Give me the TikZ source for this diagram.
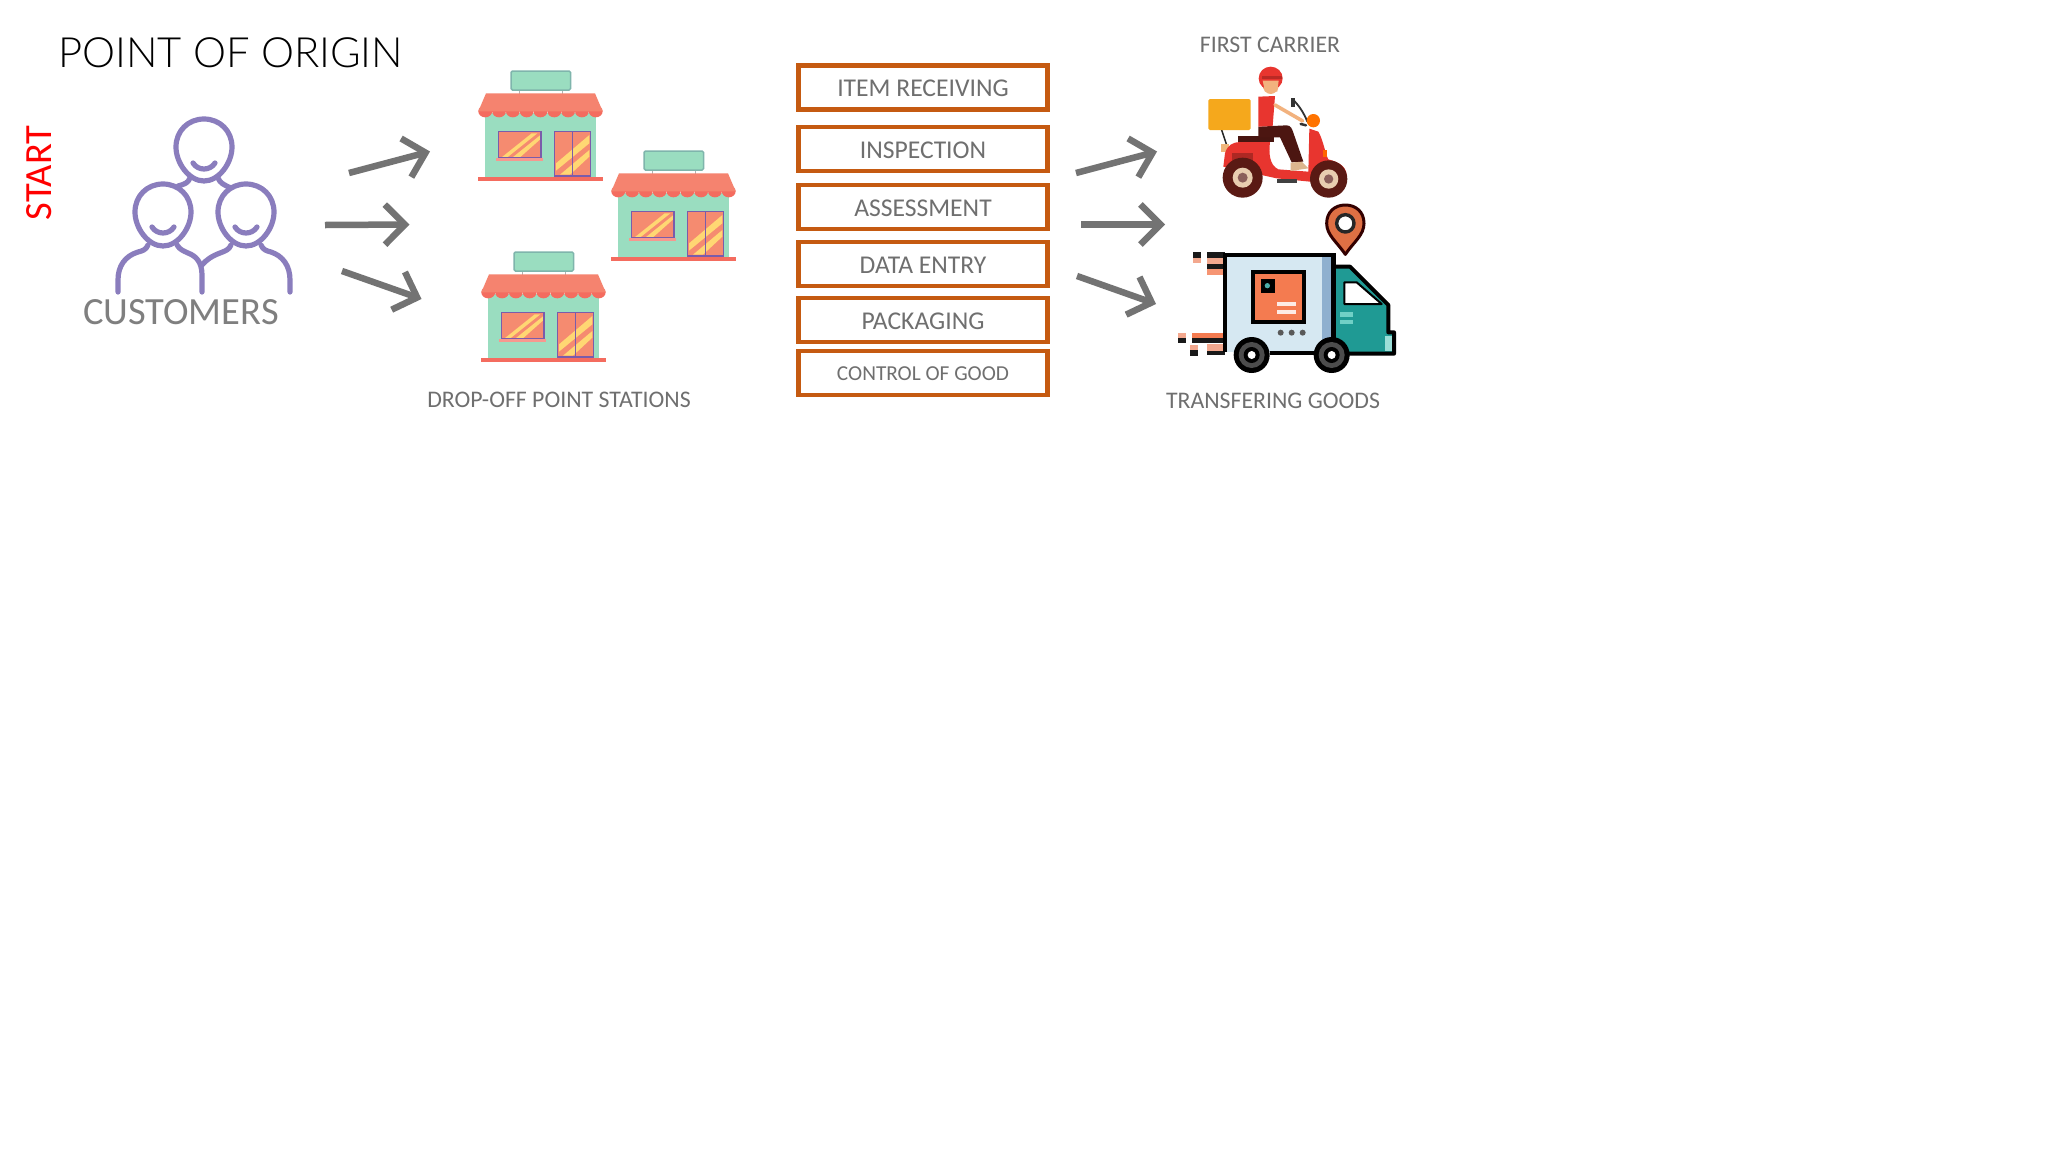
\documentclass[tikz,border=0pt]{standalone}
\usepackage{fontspec}
\setmainfont{Carlito}
\newfontfamily\thinfont{Lato Light}
\usetikzlibrary{arrows.meta}
\definecolor{labelgray}{HTML}{6F6F6F}
\definecolor{custgray}{HTML}{7F7F7F}
\definecolor{arrowgray}{HTML}{737373}
\definecolor{boxorange}{HTML}{C55A11}
\definecolor{personpurple}{HTML}{8A7DBD}
\definecolor{shopgreen}{HTML}{9ADDC0}
\definecolor{shopedge}{HTML}{7FB5AC}
\definecolor{roofcol}{HTML}{F5836F}
\definecolor{scallop}{HTML}{F46C5F}
\definecolor{framecol}{HTML}{7A5CAB}
\definecolor{glasscol}{HTML}{F58B70}
\definecolor{stripecol}{HTML}{FFD773}
\definecolor{scootred}{HTML}{E8352F}
\definecolor{maroon}{HTML}{5A1A14}
\definecolor{tancol}{HTML}{E8CDB0}
\definecolor{skincol}{HTML}{F2B27E}
\definecolor{cargocol}{HTML}{F5A81C}
\definecolor{pincol}{HTML}{DE7044}
\definecolor{truckblue}{HTML}{D6E8F2}
\definecolor{truckshade}{HTML}{8FB0CF}
\definecolor{packcol}{HTML}{F47B50}
\definecolor{peachcol}{HTML}{F3A88E}
\definecolor{cabcol}{HTML}{1F9A94}
\definecolor{cablight}{HTML}{70D0C6}
\tikzset{
  x=1pt,y=-1pt,
  stepbox/.style={draw=boxorange,line width=4.7pt,minimum width=249pt,minimum height=44pt,inner sep=0pt,text=labelgray,text height=18.5pt,text depth=0pt,font=\fontsize{25.6}{30}\selectfont},
  caption/.style={text=labelgray,font=\fontsize{23.8}{28}\selectfont,inner sep=0pt},
  flow/.style={draw=arrowgray,line width=6.5pt,-{Straight Barb[length=20pt,width=40pt,line width=6.5pt]}},
  person/.style={draw=personpurple,line width=5.2pt,line cap=round,line join=round},
  zoomed/.style={x=0.33333pt,y=-0.33333pt},
  pics/shopicon/.style={code={
    % sign struts
    \draw[gray!60,line width=0.5pt] (178,120)--(178,132) (307,120)--(307,132);
    % sign
    \draw[draw=shopedge,line width=1.5pt,fill=shopgreen,rounded corners=1.5pt] (153,63) rectangle (332,120);
    % body
    \fill[shopgreen] (76,190) rectangle (408,382);
    % scallops
    \foreach \k in {0,...,8}
      \fill[scallop] ({75.7+41.44*\k},184) ellipse [x radius=20.7,y radius=18];
    % roof
    \fill[roofcol] (78,130)--(405,130)--(428,184)--(55,184)--cycle;
    % window
    \fill[scallop!70] (107,325) rectangle (250,333);
    \fill[glasscol] (116,244) rectangle (243,322);
    \begin{scope}
      \clip (116,244) rectangle (243,322);
      \fill[stripecol] (125,322)--(215,250)--(232,250)--(142,322)--cycle;
      \fill[stripecol] (158,322)--(240,256)--(243,266)--(180,322)--cycle;
    \end{scope}
    \draw[framecol,line width=1.3pt] (116,244) rectangle (243,322);
    % door
    \fill[glasscol] (284,244) rectangle (392,378);
    \begin{scope}
      \clip (284,244) rectangle (392,378);
      \fill[stripecol] (288,340)--(388,255)--(388,280)--(288,362)--cycle;
      \fill[stripecol] (300,374)--(388,300)--(388,320)--(330,374)--cycle;
    \end{scope}
    \draw[framecol,line width=1.3pt] (284,244) rectangle (392,378) (338,244)--(338,378);
    % base
    \fill[scallop] (55,380) rectangle (428,393);
  }},
}
\begin{document}
\begin{tikzpicture}[x=1pt,y=-1pt]
\useasboundingbox (0,0) rectangle (2048,1152);
\fill[white] (0,0) rectangle (2048,1152);

% texts
\node[anchor=base west,inner sep=0pt,font=\thinfont\fontsize{41.7}{46}\selectfont] (title) at (58,67) {POINT OF ORIGIN};
\node[rotate=90,text=red,inner sep=0pt,font=\fontsize{38.5}{40}\selectfont,anchor=base] (start) at (51,173) {START};
\node[anchor=base,text=custgray,inner sep=0pt,font=\fontsize{38.5}{42}\selectfont] (customers) at (181,324) {CUSTOMERS};
\node[caption,anchor=base] (dropoff) at (559,407) {DROP-OFF POINT STATIONS};
\node[caption,anchor=base] (carrier) at (1270,52) {FIRST CARRIER};
\node[caption,anchor=base] (transfer) at (1273,408) {TRANSFERING GOODS};

% customers icon
\begin{scope}[shift={(204,119)}]
  \draw[person] (0,0) .. controls (16,0) and (28,12) .. (28,28) .. controls (28,44) and (15,62) .. (0,62) .. controls (-15,62) and (-28,44) .. (-28,28) .. controls (-28,12) and (-16,0) .. (0,0) -- cycle;
  \draw[person] (-11,44) .. controls (-6,52) and (6,52) .. (11,44);
\end{scope}
\begin{scope}[shift={(163,184)}]
  \draw[person] (0,0) .. controls (16,0) and (28,12) .. (28,28) .. controls (28,44) and (15,62) .. (0,62) .. controls (-15,62) and (-28,44) .. (-28,28) .. controls (-28,12) and (-16,0) .. (0,0) -- cycle;
  \draw[person] (-11,43) .. controls (-6,51) and (6,51) .. (11,43);
\end{scope}
\begin{scope}[shift={(246,184)}]
  \draw[person] (0,0) .. controls (16,0) and (28,12) .. (28,28) .. controls (28,44) and (15,62) .. (0,62) .. controls (-15,62) and (-28,44) .. (-28,28) .. controls (-28,12) and (-16,0) .. (0,0) -- cycle;
  \draw[person] (-11,43) .. controls (-6,51) and (6,51) .. (11,43);
\end{scope}
\draw[person] (148,245) .. controls (146,250) and (142,251) .. (138,252) .. controls (125,256) and (118,266) .. (118,280) -- (118,292);
\draw[person] (177,245) .. controls (180,250) and (184,251) .. (188,253) .. controls (196,256) and (202,262) .. (202,275) -- (202,292);
\draw[person] (231,245) .. controls (229,250) and (225,251) .. (220,253) .. controls (212,256) and (206,260) .. (202,265);
\draw[person] (261,245) .. controls (263,250) and (267,251) .. (271,252) .. controls (283,256) and (290,266) .. (290,280) -- (290,292);
\draw[person] (190,178) .. controls (188,183) and (185,184) .. (178,186);
\draw[person] (218,178) .. controls (220,183) and (224,185) .. (231,188);

% shops
\begin{scope}[shift={(460,50)},zoomed] \pic {shopicon}; \end{scope}
\begin{scope}[shift={(593,130)},zoomed] \pic {shopicon}; \end{scope}
\begin{scope}[shift={(463,231)},zoomed] \pic {shopicon}; \end{scope}

% step boxes
\node[stepbox] (receiving) at (923,87.5) {ITEM RECEIVING};
\node[stepbox] (inspection) at (923,149) {INSPECTION};
\node[stepbox] (assessment) at (923,207) {ASSESSMENT};
\node[stepbox] (dataentry) at (923,264) {DATA ENTRY};
\node[stepbox] (packaging) at (923,320) {PACKAGING};
\node[stepbox,text height=14pt,font=\fontsize{21.3}{26}\selectfont] (control) at (923,373) {CONTROL OF GOOD};

% arrows
\coordinate (la1s) at (349,173); \coordinate (la1e) at (430,151.5);
\coordinate (la2s) at (325,225); \coordinate (la2e) at (409.5,224.5);
\coordinate (la3s) at (342,271); \coordinate (la3e) at (421.5,299);
\coordinate (ra1s) at (1076,173); \coordinate (ra1e) at (1157,151.5);
\coordinate (ra2s) at (1081,224.5); \coordinate (ra2e) at (1165,224.5);
\coordinate (ra3s) at (1077,276); \coordinate (ra3e) at (1156,304);
\draw[flow] (la1s) -- (la1e);
\draw[flow] (la2s) -- (la2e);
\draw[flow] (la3s) -- (la3e);
\draw[flow] (ra1s) -- (ra1e);
\draw[flow] (ra2s) -- (ra2e);
\draw[flow] (ra3s) -- (ra3e);

% scooter
\begin{scope}[shift={(1170,50)},zoomed]
  \draw[gray!30!black,line width=1.5pt] (155,240)--(170,285);
  \fill[tancol!70!orange] (152,283) rectangle (178,305);
  \fill[scootred] (160,350) -- (165,310) .. controls (172,285) and (190,276) .. (210,276) -- (300,276) .. controls (296,310) and (298,345) .. (325,358) -- (415,365) -- (418,236) -- (445,245) .. controls (460,270) and (465,310) .. (475,328) .. controls (500,335) and (528,345) .. (530,375) -- (420,395) -- (320,385) -- cycle;
  \fill[scootred!75!black] (185,308) rectangle (250,342);
  \fill[black!75] (320,388) rectangle (382,400);
  \fill[orange!80!red] (458,300) rectangle (470,322);
  % wheels
  \fill[maroon] (218,383) circle [radius=60];
  \fill[tancol] (218,383) circle [radius=30];
  \fill[maroon!70] (218,383) circle [radius=15];
  \fill[maroon] (476,387) circle [radius=56];
  \fill[tancol] (476,387) circle [radius=29];
  \fill[maroon!70] (476,387) circle [radius=14];
  % box
  \fill[cargocol,rounded corners=1.5pt] (115,147) rectangle (242,240);
  % seat and legs
  \fill[maroon!80!black] (205,258) rectangle (312,277);
  \fill[maroon!85!black] (265,230) -- (350,226) .. controls (362,226) and (366,236) .. (370,248) -- (400,335) -- (365,337) -- (330,262) -- (265,262) -- cycle;
  \fill[tancol!70!brown] (362,338) -- (395,335) -- (415,355) -- (362,363) -- cycle;
  % torso, arm, head
  \fill[scootred] (265,140) -- (315,138) -- (308,228) -- (265,230) -- cycle;
  \draw[skincol,line width=3.6pt,line cap=round] (315,165) -- (398,213);
  \fill[skincol] (302,105) ellipse [x radius=24,y radius=27];
  \fill[scootred] (302,85) ellipse [x radius=36,y radius=35];
  \fill[skincol] (278,92) -- (326,92) -- (322,125) -- (285,125) -- cycle;
  \fill[scootred!80!black] (275,78) -- (335,78) -- (335,88) -- (275,88) -- cycle;
  % handlebar, lamp
  \draw[black!80,line width=1.8pt,line cap=round] (370,150) .. controls (385,165) and (400,185) .. (412,215);
  \fill[black!80] (362,145) rectangle (375,172);
  \fill[orange!90!red] (430,212) circle [radius=20];
  \draw[black!80,line width=2.5pt,line cap=round] (392,222) -- (408,226);
\end{scope}

% truck
\begin{scope}[shift={(1160,195)},zoomed]
  % pin
  \draw[black!80!red,line width=3pt,fill=pincol,line join=round] (556,178) .. controls (530,140) and (500,120) .. (500,85) .. controls (500,50) and (525,30) .. (556,30) .. controls (587,30) and (612,50) .. (612,85) .. controls (612,120) and (582,140) .. (556,178) -- cycle;
  \draw[black!85,line width=3.4pt,fill=white] (556,85) circle [radius=26];
  % speed lines
  \fill[black!90] (140,172) rectangle (195,188);
  \fill[peachcol] (140,188) rectangle (195,208);
  \fill[black!90] (140,208) rectangle (195,222);
  \fill[packcol!80] (140,222) rectangle (195,240);
  \fill[black!90] (100,172) rectangle (122,188);
  \fill[peachcol] (100,188) rectangle (122,203);
  \fill[packcol] (95,413) rectangle (195,428);
  \fill[black!90] (95,428) rectangle (195,443);
  \fill[peachcol] (140,448) rectangle (195,468);
  \fill[black!90] (140,468) rectangle (195,480);
  \fill[peachcol] (55,415) rectangle (78,428);
  \fill[black!90] (55,428) rectangle (78,443);
  \fill[peachcol] (90,450) rectangle (115,466);
  \fill[black!90] (90,466) rectangle (115,482);
  % cab
  \draw[black,line width=4pt,line join=round,fill=cabcol] (520,215) -- (570,215) -- (685,330) -- (685,412) -- (702,412) -- (702,476) -- (520,476) -- cycle;
  \draw[black,line width=2pt,fill=white,line join=round] (553,262) -- (590,262) -- (665,327) -- (553,327) -- cycle;
  \fill[cablight] (540,352) rectangle (578,365);
  \fill[cablight] (540,375) rectangle (578,388);
  \fill[cablight!70!white] (675,422) rectangle (697,467);
  % box
  \fill[truckblue] (195,185) rectangle (520,472);
  \fill[truckshade] (485,185) rectangle (520,472);
  \draw[black,line width=4.5pt] (195,472) -- (195,180) -- (520,180) -- (520,472);
  \draw[black,line width=4.5pt] (330,474) -- (470,474);
  \draw[black,line width=4pt,fill=packcol] (280,230) rectangle (433,380);
  \fill[black] (302,252) rectangle (345,293);
  \fill[cabcol!80] (322,272) circle [radius=8];
  \fill[white!85!packcol] (350,320) rectangle (408,333);
  \fill[white!85!packcol] (350,345) rectangle (408,358);
  \foreach \q in {362,395,428} \fill[black!65] (\q,413) circle [radius=9];
  % wheels
  \foreach \q in {275,515} {
    \fill[black] (\q,480) circle [radius=54];
    \fill[black!70] (\q,480) circle [radius=39];
    \fill[black] (\q,480) circle [radius=24];
    \fill[white] (\q,480) circle [radius=12];
  }
\end{scope}
\end{tikzpicture}
\end{document}
